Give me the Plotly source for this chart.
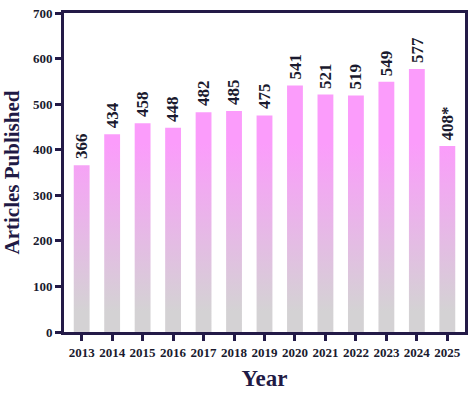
import plotly.graph_objects as go

years = [2013, 2014, 2015, 2016, 2017, 2018, 2019, 2020, 2021, 2022, 2023, 2024, 2025]
articles = [366, 434, 458, 448, 482, 485, 475, 541, 521, 519, 549, 577, 408]
labels = ["366", "434", "458", "448", "482", "485", "475", "541", "521", "519", "549", "577", "408*"]
tick_text = [str(y) for y in years]

AX = "#231a47"
PINK = "#fb9cfb"
GREY = "#d4d2d4"
FONT = "Liberation Serif"
BW = 0.52

fig = go.Figure()

for yr, v in zip(years, articles):
    fig.add_trace(go.Scatter(
        x=[yr - BW / 2, yr - BW / 2, yr + BW / 2, yr + BW / 2],
        y=[0, v, v, 0],
        mode="lines",
        fill="toself",
        fillgradient=dict(type="vertical",
                          colorscale=[[0, GREY], [1, PINK]],
                          start=60, stop=420),
        line=dict(width=0, color="rgba(0,0,0,0)"),
        hoverinfo="skip",
        showlegend=False,
    ))

for yr, v, lab in zip(years, articles, labels):
    fig.add_annotation(
        x=yr, y=v, text="<b>" + lab + "</b>", textangle=-90,
        showarrow=False, xanchor="center", yanchor="bottom", yshift=4,
        font=dict(family=FONT, size=17, color="#1a1a2e"),
    )

fig.update_layout(
    width=474, height=394,
    margin=dict(l=64, r=6, t=10, b=58),
    plot_bgcolor="white", paper_bgcolor="white",
    font=dict(family=FONT, color="#1a1a2e"),
)
fig.update_xaxes(
    type="linear", range=[2012.42, 2025.58],
    tickvals=years, ticktext=tick_text,
    tickfont=dict(family=FONT, size=13, color="#1a1a2e", weight="bold"),
    showline=True, linecolor=AX, linewidth=3, mirror=True,
    ticks="outside", ticklen=6, tickwidth=3, tickcolor=AX,
    showgrid=False, zeroline=False,
    title=dict(text="<b>Year</b>", font=dict(family=FONT, size=23, color="#1f1a45"), standoff=12),
)
fig.update_yaxes(
    range=[0, 700], dtick=100,
    tickfont=dict(family=FONT, size=13, color="#1a1a2e", weight="bold"),
    showline=True, linecolor=AX, linewidth=3, mirror=True,
    ticks="outside", ticklen=6, tickwidth=3, tickcolor=AX,
    showgrid=False, zeroline=False,
    title=dict(text="<b>Articles Published</b>", font=dict(family=FONT, size=21, color="#1f1a45"), standoff=10),
)

fig.write_html("out.html")
